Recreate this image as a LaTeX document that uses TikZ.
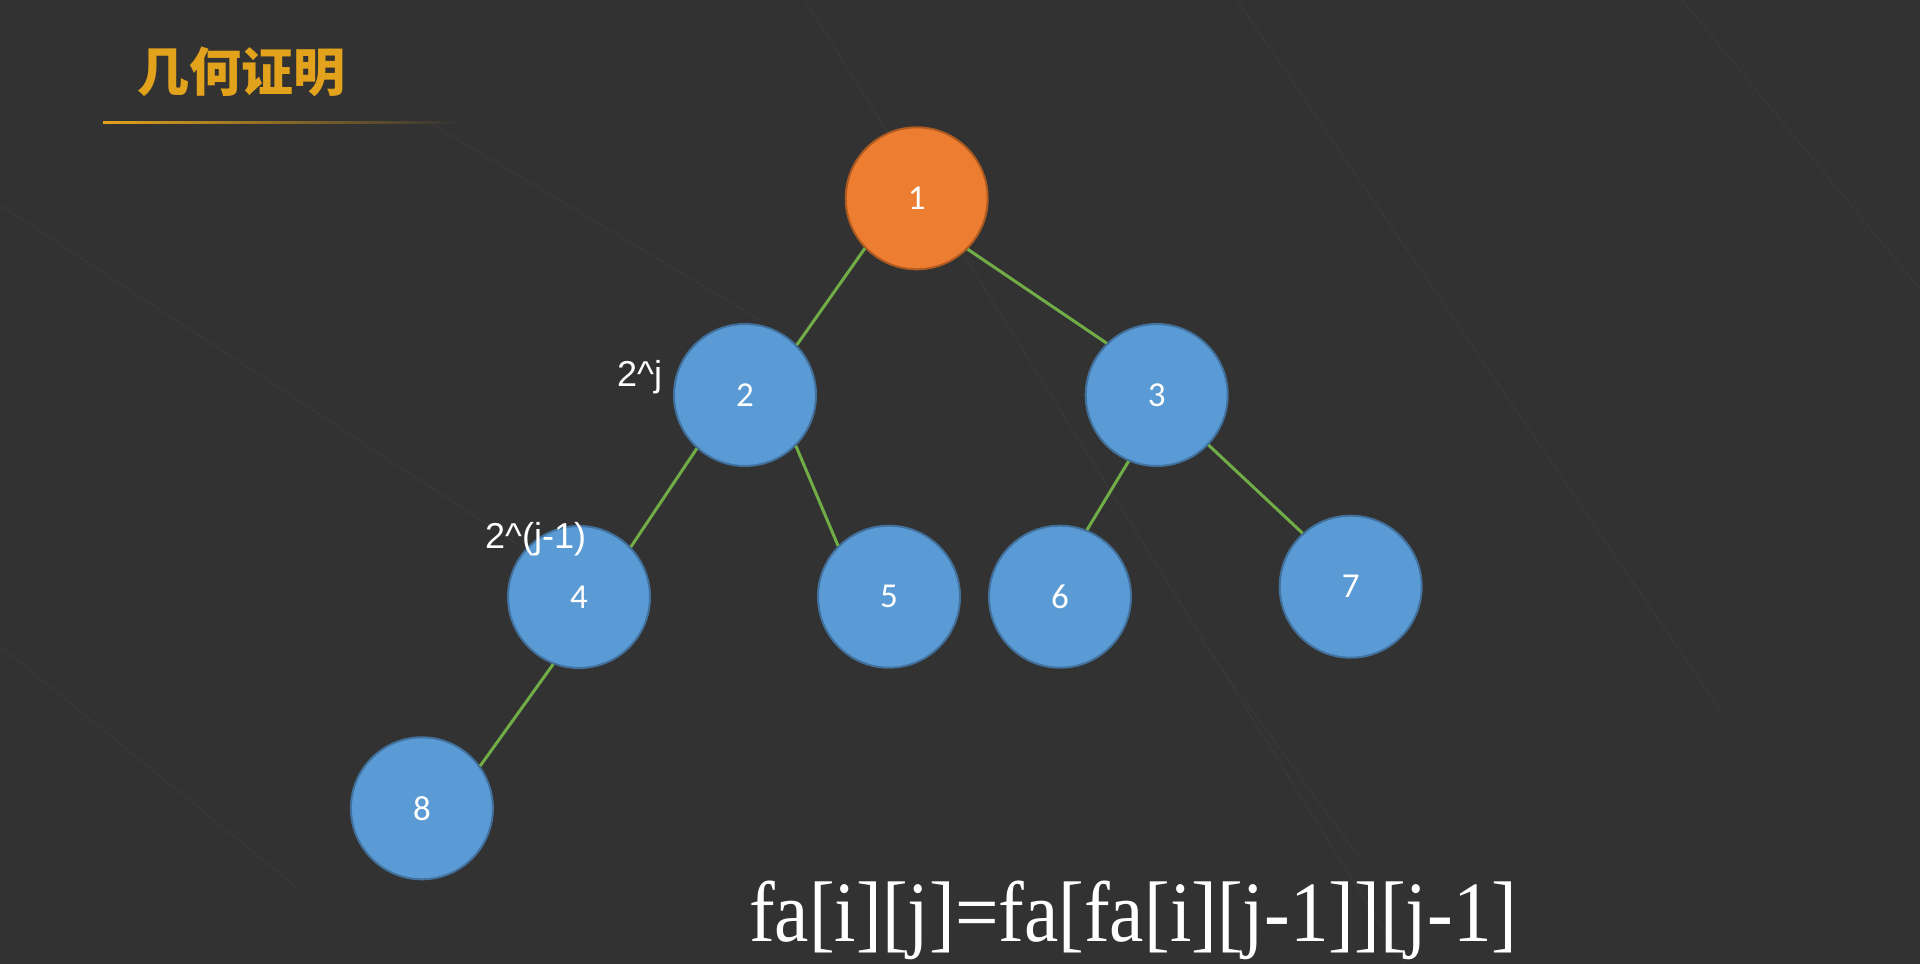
\documentclass[tikz,border=0pt]{standalone}
\usepackage{fontspec}
\setmainfont{Liberation Serif}
\newfontfamily\cjk{Noto Sans CJK SC}
\newfontfamily\arialf{Liberation Sans}
\newfontfamily\calib{Carlito}
\usetikzlibrary{shadings}
\definecolor{bgc}{HTML}{323232}
\definecolor{streak}{HTML}{383838}
\definecolor{nodeblue}{HTML}{5B9BD5}
\definecolor{nodeblueline}{HTML}{41719C}
\definecolor{nodeorange}{HTML}{ED7D31}
\definecolor{nodeorangeline}{HTML}{AE5A21}
\definecolor{edgegreen}{HTML}{70AD47}
\definecolor{gold}{HTML}{E2A21B}
\tikzset{
  treenode/.style={circle, minimum size=142pt, inner sep=0pt, line width=2pt,
    fill=nodeblue, draw=nodeblueline, text=white, font=\calib\fontsize{35}{42}\selectfont},
  rootnode/.style={treenode, fill=nodeorange, draw=nodeorangeline},
  edge/.style={draw=edgegreen, line width=3pt},
  lbl/.style={inner sep=0pt, text=white, font=\arialf\fontsize{36}{43}\selectfont},
  bgstreak/.style={draw=streak, line width=1.2pt}
}
\begin{document}
\begin{tikzpicture}[x=1pt,y=-1pt]
\fill[bgc] (0,0) rectangle (1920,964);
\useasboundingbox (0,0) rectangle (1920,964);
% faint background streaks
\draw[bgstreak] (0,205) -- (560,572);
\draw[bgstreak] (430,123) -- (760,320);
\draw[bgstreak] (805,0) -- (1405,964);
\draw[bgstreak] (1237,0) -- (1720,710);
\draw[bgstreak] (1682,0) -- (1920,289);
\draw[bgstreak] (1200,639) -- (1361,860);
\draw[bgstreak] (0,646) -- (300,890);
% title
\node[inner sep=0pt, text=gold, font=\cjk\bfseries\fontsize{52}{60}\selectfont] (title) at (241,72) {几何证明};
\shade[left color=gold, right color=bgc] (103,121.7) rectangle (460,123.7);
% tree nodes
\node[rootnode] (n1) at (916.7,198.3) {1};
\node[treenode] (n2) at (745,395) {2};
\node[treenode] (n3) at (1156.7,395) {3};
\node[treenode] (n4) at (579,597) {4};
\node[treenode] (n5) at (889,596.7) {5};
\node[treenode] (n6) at (1060,596.7) {6};
\node[treenode] (n7) at (1350.7,586.7) {7};
\node[treenode] (n8) at (421.9,808.3) {8};
% edges
\draw[edge] (n1.224.6) -- (n2.44);
\draw[edge] (n1.315) -- (n3.134);
\draw[edge] (n2.228.8) -- (n4.44.6);
\draw[edge] (n2.315) -- (n5.135);
\draw[edge] (n3.247.4) -- (n6.68.5);
\draw[edge] (n3.316.8) -- (n7.132.9);
\draw[edge] (n4.249) -- (n8.36.8);
% labels
\node[lbl, anchor=base west] (l2) at (617,386) {2\textasciicircum j};
\node[lbl, anchor=base west] (l4) at (485,548) {2\textasciicircum(j-1)};
% formula
\node[inner sep=0pt, anchor=base west, text=white, font=\fontsize{86}{92}\selectfont, xscale=0.898] (formula) at (749,941) {fa[i][j]=fa[fa[i][j-1]][j-1]};
\end{tikzpicture}
\end{document}
